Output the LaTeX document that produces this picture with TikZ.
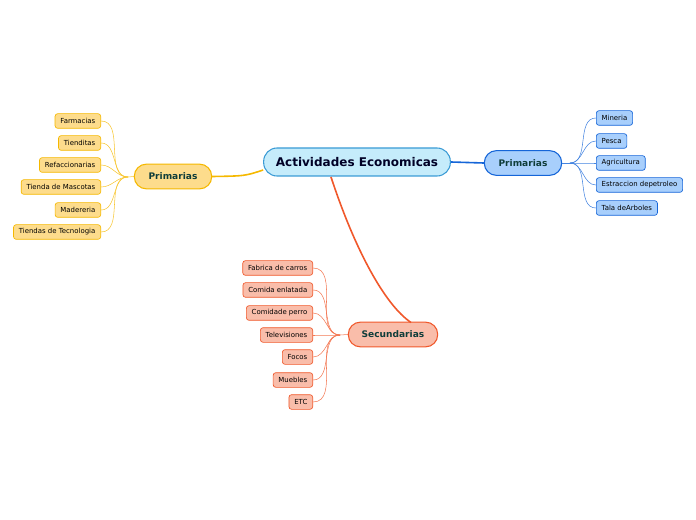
\documentclass[tikz,border=0pt]{standalone}
\usepackage{fontspec}
\setmainfont{DejaVu Sans}
\begin{document}
\begin{tikzpicture}[x=0.75pt,y=-0.75pt,
  leaf/.style={draw,rounded corners=2pt,line width=0.5pt,minimum height=11pt,inner xsep=4pt,inner ysep=0pt,font=\fontsize{5.2}{6}\selectfont},
  yl/.style={leaf,fill=Y,draw=YB},
  bl/.style={leaf,fill=B,draw=BB},
  rl/.style={leaf,fill=R,draw=RB},
  main/.style={draw,rounded corners=9pt,line width=0.8pt,minimum height=18.5pt,font=\fontsize{6.8}{8}\bfseries\selectfont,text=T},
  yc/.style={draw=YB!80,line width=0.4pt},
  bc/.style={draw=BB!80,line width=0.4pt},
  rc/.style={draw=RB!80,line width=0.4pt}]
\definecolor{Y}{HTML}{FDDC8C}\definecolor{YB}{HTML}{F5B800}
\definecolor{B}{HTML}{A8CFFC}\definecolor{BB}{HTML}{1565D8}
\definecolor{R}{HTML}{F9BDAA}\definecolor{RB}{HTML}{F0582B}
\definecolor{C}{HTML}{C5ECFB}\definecolor{CB}{HTML}{3A9BD5}
\definecolor{T}{HTML}{0F3D3A}
\useasboundingbox (0,0) rectangle (696,520);
\node[main,fill=C,draw=CB,minimum width=140pt,minimum height=21pt,rounded corners=10pt,font=\fontsize{9}{11}\bfseries\selectfont,text=black!85!blue] (c) at (357,162) {Actividades Economicas};
\node[main,fill=Y,draw=YB,minimum width=58pt] (pl) at (173,176.5) {Primarias};
\node[main,fill=B,draw=BB,minimum width=58pt] (pr) at (523,163) {Primarias};
\node[main,fill=R,draw=RB,minimum width=67pt] (s) at (393,334.5) {Secundarias};
\draw[YB,line width=1.2pt] (c.west|-0,170) coordinate (c1) .. controls (245,176) .. (pl.east);
\draw[BB,line width=1.2pt] (c.east) -- (pr.west);
\draw[RB,line width=1.2pt] (331,177) coordinate (c2) .. controls (355,250) and (385,305) .. (411,322.5) coordinate (c3);
\coordinate (hl) at (128,177);
\coordinate (hr) at (570,163);
\coordinate (hs) at (340,335);
\foreach \n/\y/\t in {1/121/Farmacias,2/143/Tienditas,3/165/Refaccionarias,4/187/Tienda de Mascotas,5/210/Madereria,6/232/Tiendas de Tecnologia}{
  \node[yl,anchor=east] (l\n) at (101,\y) {\t};
  \draw[yc] (l\n.east) to[out=0,in=180] (hl);}
\draw[yc] (hl) -- (pl.west);
\foreach \n/\y/\t in {1/118/Mineria,2/141/Pesca,3/163/Agricultura,4/185/Estraccion depetroleo,5/208/Tala deArboles}{
  \node[bl,anchor=west] (r\n) at (596,\y) {\t};
  \draw[bc] (r\n.west) to[out=180,in=0] (hr);}
\draw[bc] (hr) -- (pr.east);
\foreach \n/\y/\t in {1/268/Fabrica de carros,2/290/Comida enlatada,3/313/Comidade perro,4/335/Televisiones,5/357/Focos,6/380/Muebles,7/402/ETC}{
  \node[rl,anchor=east] (s\n) at (313,\y) {\t};
  \draw[rc] (s\n.east) to[out=0,in=180] (hs);}
\draw[rc] (hs) -- (s.west);
\end{tikzpicture}
\end{document}
